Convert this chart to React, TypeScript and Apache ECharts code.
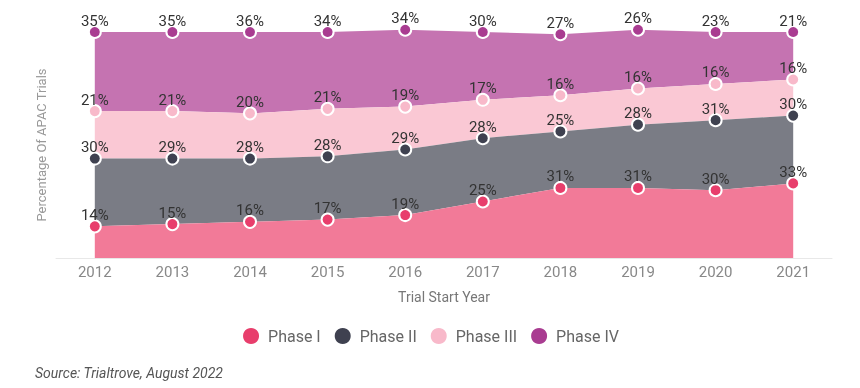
import React, { useEffect, useRef } from "react";
import * as echarts from "echarts";

const years = ["2012", "2013", "2014", "2015", "2016", "2017", "2018", "2019", "2020", "2021"];
const phase1 = [14, 15, 16, 17, 19, 25, 31, 31, 30, 33];
const phase2 = [30, 29, 28, 28, 29, 28, 25, 28, 31, 30];
const phase3 = [21, 21, 20, 21, 19, 17, 16, 16, 16, 16];
const phase4 = [35, 35, 36, 34, 34, 30, 27, 26, 23, 21];
const seriesNames = ["Phase I", "Phase II", "Phase III", "Phase IV"];
const markerColors = ["#E83E6C", "#3F4150", "#F8B9CA", "#A93C91"];
const areaColors = ["#F27A98", "#7A7C85", "#FAC8D4", "#C573B1"];

export default function App() {
  const ref = useRef<HTMLDivElement>(null);
  useEffect(() => {
    if (!ref.current) return;
    const chart = echarts.init(ref.current, undefined, { renderer: "svg" });
    const data = [phase1, phase2, phase3, phase4];
    const font = "Roboto";
    chart.setOption({
      animation: false,
      textStyle: { fontFamily: font },
      title: {
        text: "Source: Trialtrove, August 2022",
        left: 30,
        top: 361,
        textStyle: { fontFamily: font, fontStyle: "italic", fontSize: 14, color: "#555", fontWeight: "normal" },
      },
      legend: {
        data: seriesNames,
        left: "center",
        top: 321,
        icon: "circle",
        itemWidth: 24,
        itemHeight: 18,
        itemGap: 12,
        textStyle: { fontFamily: font, fontSize: 16, color: "#666" },
      },
      grid: { left: 56, right: 28, top: 32, bottom: 130 },
      xAxis: {
        type: "category",
        data: years,
        boundaryGap: true,
        name: "Trial Start Year",
        nameLocation: "middle",
        nameGap: 32,
        nameTextStyle: { fontFamily: font, fontSize: 14, color: "#777" },
        axisLine: { lineStyle: { color: "#e8e8e8" } },
        axisTick: { show: false },
        axisLabel: { color: "#888", fontSize: 15, margin: 6, fontFamily: font },
      },
      yAxis: {
        type: "value",
        min: 0,
        max: 100,
        name: "Percentage Of APAC Trials",
        nameLocation: "middle",
        nameGap: 8,
        nameTextStyle: { fontFamily: font, fontSize: 13, color: "#999" },
        axisLine: { show: false },
        axisTick: { show: false },
        axisLabel: { show: false },
        splitLine: { show: false },
      },
      series: data.map((d, i) => ({
        name: seriesNames[i],
        type: "line",
        stack: "total",
        data: d,
        symbol: "circle",
        symbolSize: 12,
        showAllSymbol: true,
        clip: false,
        itemStyle: { color: markerColors[i], borderColor: "#fff", borderWidth: 2 },
        lineStyle: { width: 0, color: areaColors[i] },
        areaStyle: { color: areaColors[i], opacity: 1 },
        label: {
          show: true,
          position: "top",
          distance: -3,
          formatter: "{c}%",
          color: "#333",
          fontSize: 15,
          fontFamily: font,
        },
        z: 10 - i,
      })),
    });
    return () => chart.dispose();
  }, []);
  return <div ref={ref} style={{ position: "fixed", left: 0, top: 0, width: 860, height: 388 }} />;
}
